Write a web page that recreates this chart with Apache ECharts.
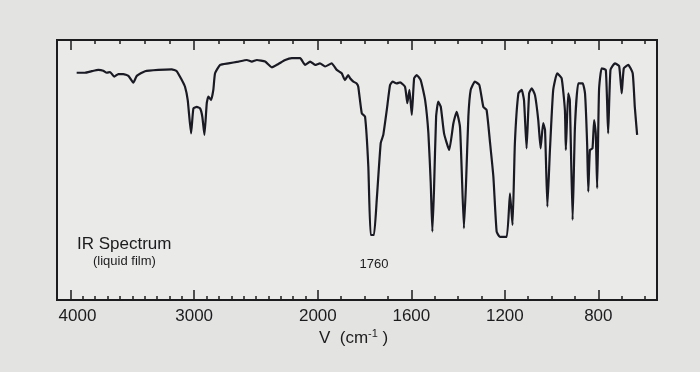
<!DOCTYPE html>
<html><head><meta charset="utf-8">
<script src="https://cdn.jsdelivr.net/npm/echarts@6/dist/echarts.min.js"></script>
<style>html,body{margin:0;padding:0;background:#e3e3e1;}#c{width:700px;height:372px;}</style>
</head><body><div id="c"></div>
<script>
// Wavenumbers (cm-1) and % transmittance
const wavenumbers = [3950,3883,3828,3775,3735,3707,3680,3646,3613,3573,3532,3492,3464,3397,3290,3181,3141,3100,3074,3052,3025,3006,2979,2952,2934,2917,2898,2885,2863,2845,2831,2790,2723,2642,2574,2534,2493,2426,2372,2319,2264,2210,2143,2103,2062,2022,1991,1969,1941,1919,1898,1884,1870,1862,1848,1834,1827,1812,1798,1784,1774,1760,1748,1731,1720,1705,1691,1680,1663,1648,1627,1617,1608,1598,1588,1577,1560,1541,1527,1517,1510,1503,1494,1485,1474,1460,1438,1420,1406,1392,1385,1375,1366,1356,1346,1328,1309,1292,1278,1263,1249,1235,1221,1192,1178,1167,1157,1142,1128,1118,1107,1096,1085,1071,1057,1047,1036,1028,1018,1007,993,976,957,943,939,929,922,910,900,886,867,857,848,843,836,825,818,811,805,797,786,768,758,748,729,711,700,691,672,653,644,634];
const transmittance = [87.4,87.4,88.0,88.5,88.2,87.4,87.7,85.9,86.9,86.9,86.2,83.6,86.2,88.0,88.5,88.7,88.0,84.6,82.0,76.9,64.1,73.7,74.3,73.7,70.5,63.5,75.7,78.2,76.9,80.8,87.2,90.4,91.0,91.7,92.3,91.7,92.3,91.7,89.5,90.8,92.3,93.0,93.0,90.4,91.7,90.4,91.0,89.8,91.0,88.5,87.2,84.6,86.5,85.3,84.0,83.3,82.0,71.8,70.5,51.3,25.0,25.0,38.5,60.3,63.5,73.1,82.7,84.0,83.3,83.7,82.0,75.7,80.8,71.2,85.3,86.5,84.6,76.9,64.1,44.9,26.3,42.3,70.5,76.3,74.3,64.1,57.7,68.0,72.4,66.7,51.3,27.6,44.9,70.5,80.8,84.0,82.7,74.3,73.1,60.3,47.4,26.3,24.3,24.3,41.0,28.8,60.3,79.5,80.8,76.9,58.3,79.5,81.4,78.8,69.2,58.3,68.0,65.4,35.9,57.7,80.8,87.2,85.3,73.1,57.7,79.5,76.9,30.8,66.7,83.3,83.3,79.5,60.3,41.7,57.7,58.3,69.2,64.1,43.0,80.8,89.1,88.5,64.1,88.5,91.0,90.0,79.5,89.1,90.4,87.2,74.3,63.5];
const majorTicks = [4000,3000,2000,1600,1200,800];
const bottomMinorTicks = [3900,3800,3700,3600,3500,3400,3300,3200,3100,2900,2800,2700,2600,2500,2400,2300,2200,2100,1900,1800,1700,1500,1400,1300,1100,1000,900,700,600];
const topMinorTicks = [3800,3600,3400,3200,2800,2600,2400,2200,1900,1800,1700,1500,1400,1300,1100,1000,900,700,600];
const axisRange = [4109, 549];
const annotation = {text: '1760', wn: 1760, t: 13.8};

// IR charts use a compressed scale above 2000 cm-1
function tx(wn){ return wn >= 2000 ? 4000 - wn : 2000 + (2000 - wn) * 1.89; }

const data = wavenumbers.map((w,i)=>[tx(w), transmittance[i]]);
const xmin = tx(axisRange[0]), xmax = tx(axisRange[1]);
const FONT = 'Liberation Sans, Arial, Helvetica, sans-serif';
const INK = '#1c1c1e';

function xa(pos, ticks, len, labels){
  return {
    type:'value', position:pos, min:xmin, max:xmax, gridIndex:0,
    axisLine:{show:false}, splitLine:{show:false},
    axisTick:{show:true, inside:true, length:len, customValues:ticks.map(tx), lineStyle:{color:INK, width:1.5}},
    axisLabel: labels ? {
      show:true, customValues:ticks.map(tx), margin:8, color:INK, fontFamily:FONT, fontSize:17,
      formatter:function(v){
        const wn = v <= 2000 ? 4000 - v : 2000 - (v - 2000)/1.89;
        const s = String(Math.round(wn/100)*100);
        return s === '4000' ? '{p|' + s + '}' : s;
      },
      rich:{p:{padding:[0,0,0,14], fontSize:17, fontFamily:FONT, color:INK}}
    } : {show:false}
  };
}

const chart = echarts.init(document.getElementById('c'), null, {renderer:'canvas'});
chart.setOption({
  backgroundColor:'#e3e3e1',
  animation:false,
  grid:{left:57, right:43, top:40, bottom:72, show:true, borderColor:INK, borderWidth:2, backgroundColor:'#eaeae8'},
  xAxis:[
    xa('bottom', majorTicks, 10, true),
    xa('bottom', bottomMinorTicks, 4, false),
    xa('top', majorTicks, 10, false),
    xa('top', topMinorTicks, 4, false)
  ],
  yAxis:{type:'value', min:0, max:100, show:false},
  series:[{
    type:'line', xAxisIndex:0, data:data, showSymbol:false, smooth:0.15,
    lineStyle:{color:'#1a1a24', width:2.2},
    markPoint:{
      symbol:'circle', symbolSize:1, silent:true,
      itemStyle:{color:'rgba(0,0,0,0)'},
      data:[{coord:[tx(annotation.wn), annotation.t], value:annotation.text}],
      label:{show:true, formatter:annotation.text, position:'inside', color:INK, fontFamily:FONT, fontSize:13}
    }
  }],
  graphic:[
    {type:'text', left:77, top:236, style:{text:'IR Spectrum', font:'17px ' + FONT, fill:INK}},
    {type:'text', left:93, top:255, style:{text:'(liquid film)', font:'13px ' + FONT, fill:INK}},
    {type:'text', left:319, top:328, style:{
      text:'{a|V  (cm}{s|-1}{a| )}', rich:{a:{fontSize:17, fontFamily:FONT, fill:INK, verticalAlign:'bottom'}, s:{fontSize:11, fontFamily:FONT, fill:INK, verticalAlign:'top', padding:[0,0,8,0]}}
    }}
  ]
});
</script></body></html>
